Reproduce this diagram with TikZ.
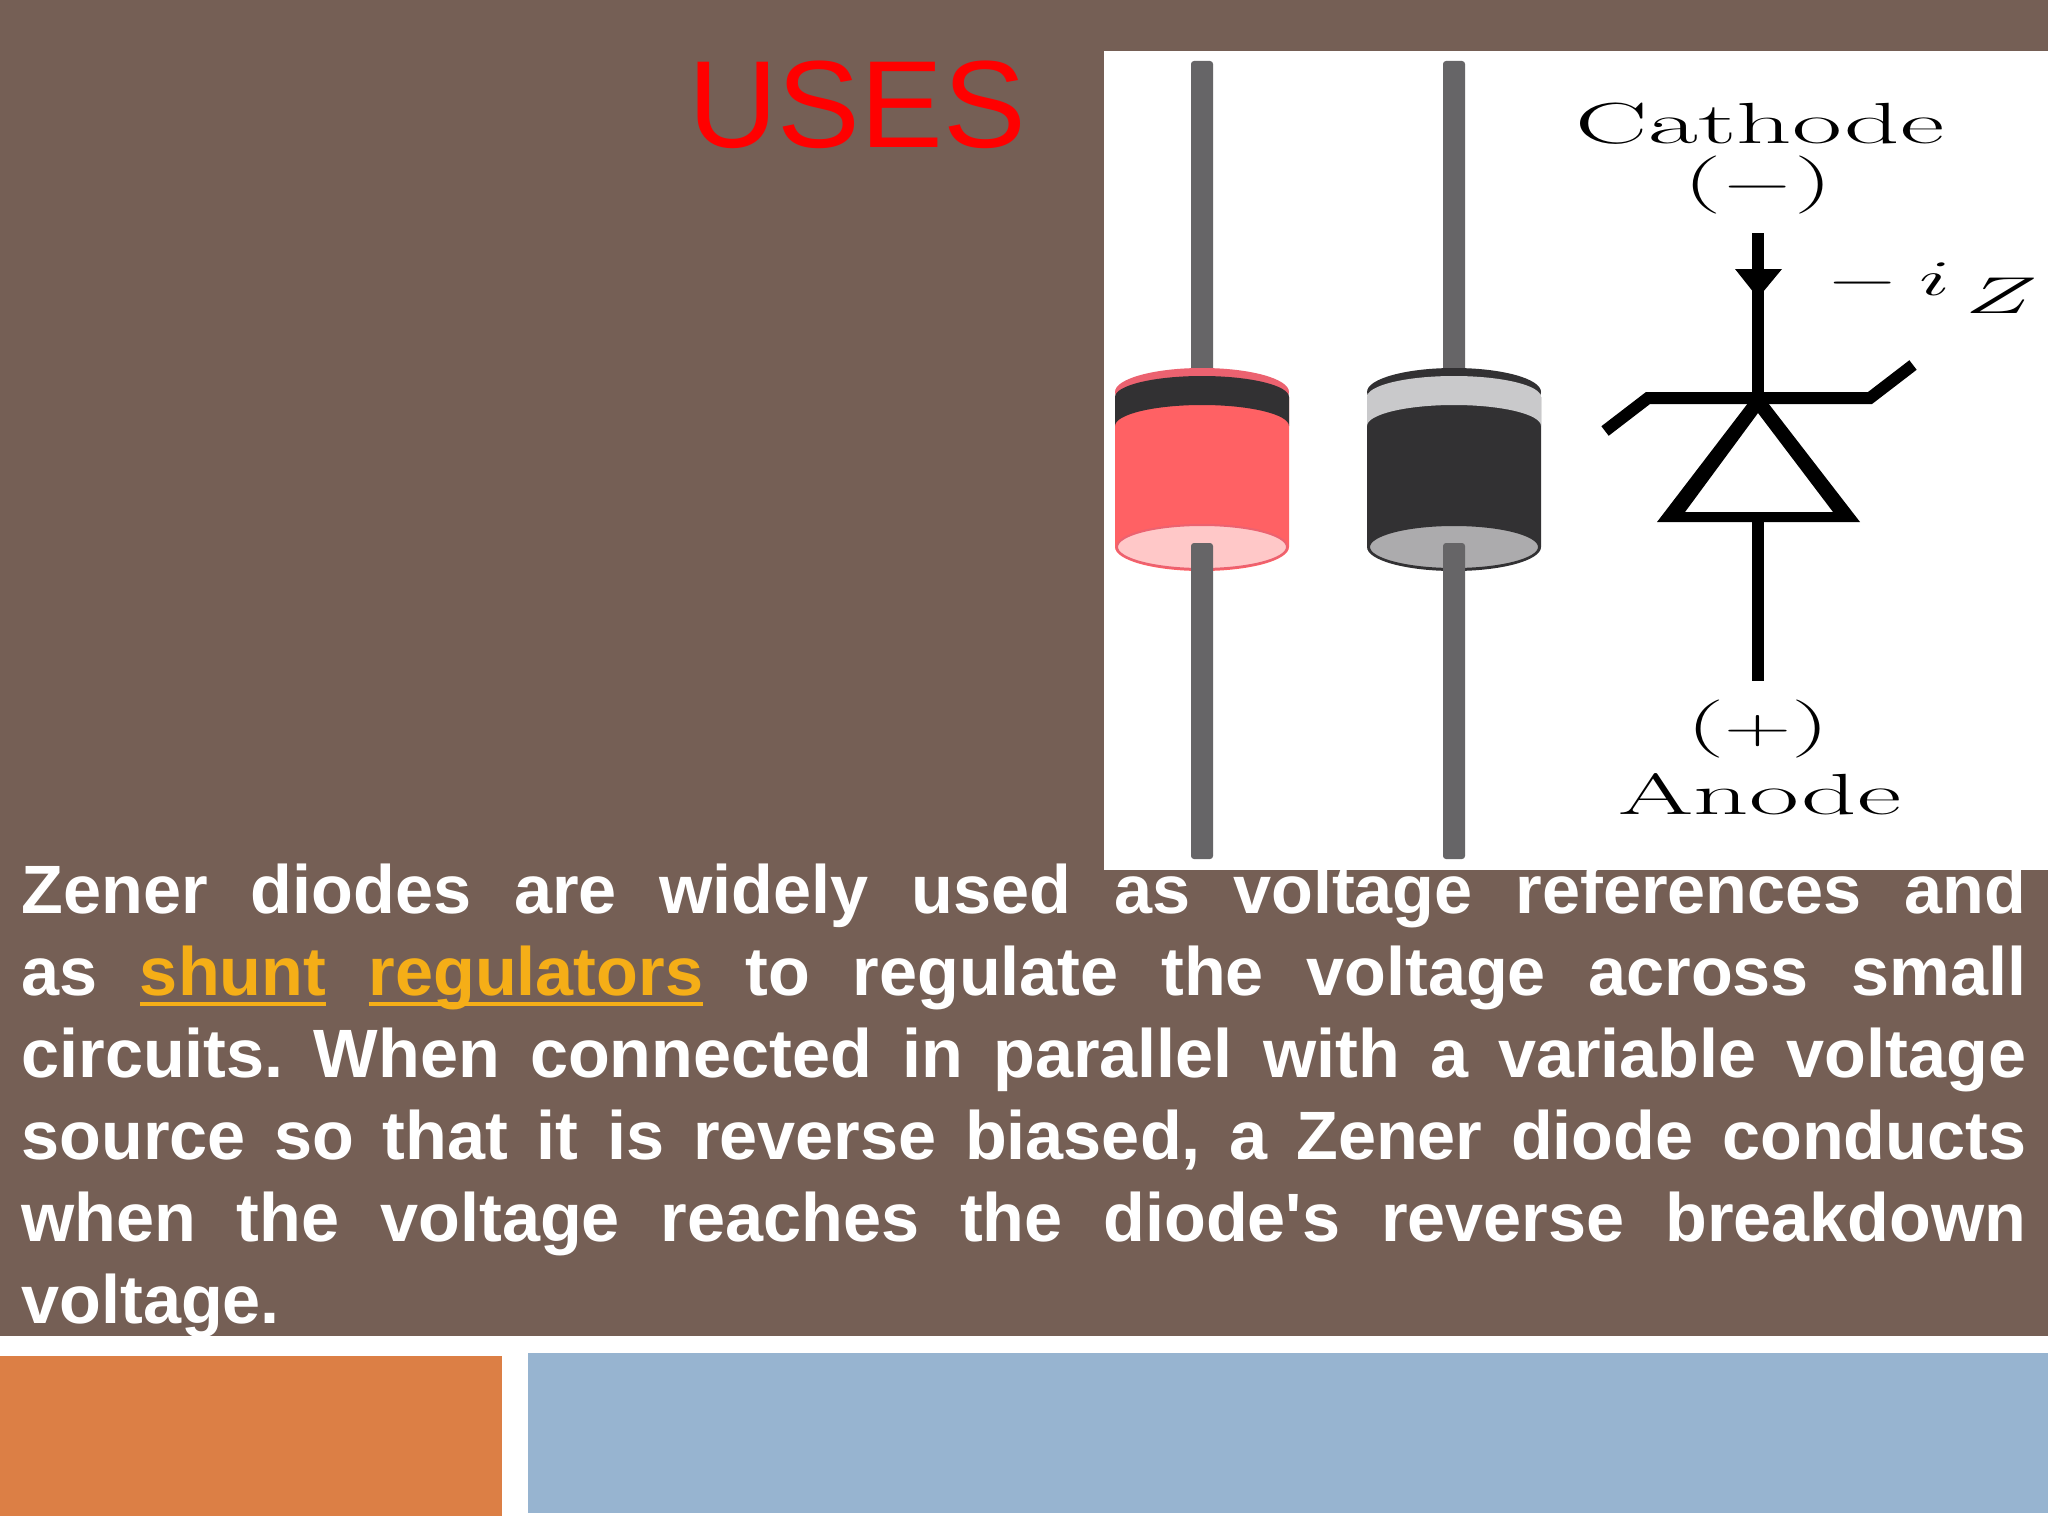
\documentclass[tikz,border=0pt]{standalone}
\usepackage{fontspec}
\setmainfont{Liberation Sans}
\newfontfamily\lmfont{Latin Modern Roman}
\usetikzlibrary{positioning}
\definecolor{slidebg}{HTML}{755F55}
\definecolor{stripeorange}{HTML}{DC7F45}
\definecolor{stripeblue}{HTML}{97B4D0}
\definecolor{linkyellow}{HTML}{F5AE17}
\definecolor{leadgrey}{HTML}{666567}
\definecolor{darkbody}{HTML}{323133}
\definecolor{redbody}{HTML}{FF6164}
\definecolor{redcap}{HTML}{EC6270}
\definecolor{redface}{HTML}{FFC8C8}
\definecolor{greyband}{HTML}{C9C9CB}
\definecolor{greyface}{HTML}{ACABAD}
\newcommand{\wideface}[1]{\scalebox{1.87}[1]{#1}}
\newlength{\linklen}
\newcommand{\linkword}[1]{\settowidth{\linklen}{#1}\rlap{\rule[-5pt]{\linklen}{2pt}}#1}
\tikzset{
	title/.style = {inner sep=0pt, text=red, font=\fontsize{62}{62}\selectfont},
	body/.style = {inner sep=0pt, anchor=north west, text=white, text width=1002.5pt, align=justify,
		font=\fontsize{34.2}{41}\selectfont\bfseries\frenchspacing},
	label/.style = {inner sep=0pt, text=black, font=\lmfont\fontsize{29}{29}\selectfont},
	symline/.style = {draw=black, line width=6.3pt},
	lead/.style = {fill=leadgrey, rounded corners=1.5pt}
}
\begin{document}
\begin{tikzpicture}[x=0.5pt, y=-0.5pt]
	\useasboundingbox (0,0) rectangle (2048,1536);
	% slide background and stripes
	\fill[slidebg] (0,0) rectangle (2048,1336);
	\fill[stripeorange] (0,1356) rectangle (502,1516);
	\fill[stripeblue] (528,1353) rectangle (2048,1513);
	% texts
	\node[title] (uses) at (857,105) {USES};
	\node[body] (text) at (21,864) {Zener diodes are widely used as voltage references and\linebreak
		as {\color{linkyellow}\linkword{shunt} \linkword{regulators}} to regulate the voltage across small\linebreak
		circuits. When connected in parallel with a variable voltage\linebreak
		source so that it is reverse biased, a Zener diode conducts\linebreak
		when the voltage reaches the diode\textquotesingle s reverse breakdown\linebreak
		voltage.};
	% picture sits over the first line
	\fill[white] (1104,51) rectangle (2048,870);
	% the two diodes
	\foreach \cx/\bodycol/\capcol/\bandcol/\facecol/\rimcol in {1202/redbody/redcap/darkbody/redface/redcap, 1454/darkbody/darkbody/greyband/greyface/darkbody}{
		\path[lead] (\cx-11,61) rectangle (\cx+11,380);
		\fill[\capcol] (\cx,392) ellipse [x radius=87, y radius=24];
		\fill[\bodycol] (\cx-87,397) -- (\cx+87,397) -- (\cx+87,547)
			arc [start angle=0, end angle=180, x radius=87, y radius=24] -- cycle;
		\fill[\bandcol] (\cx-87,397) arc [start angle=180, end angle=360, x radius=87, y radius=21]
			-- (\cx+87,426) arc [start angle=0, end angle=-180, x radius=87, y radius=21] -- cycle;
		\filldraw[fill=\facecol, draw=\rimcol, line width=1pt] (\cx,547) ellipse [x radius=85, y radius=22];
		\path[lead] (\cx-11,543) rectangle (\cx+11,859);
	}
	% zener symbol
	\coordinate (cathodeend) at (1758,233);
	\coordinate (apex) at (1758,398);
	\coordinate (anodeend) at (1758,681);
	\coordinate (barleft) at (1648,398);
	\coordinate (barright) at (1870,398);
	\coordinate (kinkleft) at (1605,431);
	\coordinate (kinkright) at (1913,365);
	\coordinate (trianglebase) at (1758,517);
	\coordinate (arrowleft) at (1735,269);
	\coordinate (arrowright) at (1782,269);
	\coordinate (arrowtip) at (1758,298);
	\draw[symline] (cathodeend) -- (apex);
	\draw[symline] (trianglebase) -- (anodeend);
	\draw[symline, line width=6pt] (kinkleft) -- (barleft) -- (barright) -- (kinkright);
	\fill[black, even odd rule] (1657,522) -- (1860,522) -- (1758,390) -- cycle
		(1685,512) -- (1833,512) -- (1758,413) -- cycle;
	\fill[black] (arrowleft) -- (arrowright) -- (arrowtip) -- cycle;
	% symbol labels
	\node[label] (cathode) at (1760,124) {\wideface{Cathode}};
	\node[label] (minus) at (1758,185) {\wideface{($-$)}};
	\node[label] (current) at (1933,288) {\wideface{$-\mkern4mu i\mkern3mu_{\scalebox{1.25}{$\scriptstyle Z$}}$}};
	\node[label] (plus) at (1758,729) {\wideface{($+$)}};
	\node[label] (anode) at (1760,794) {\wideface{Anode}};
\end{tikzpicture}
\end{document}
